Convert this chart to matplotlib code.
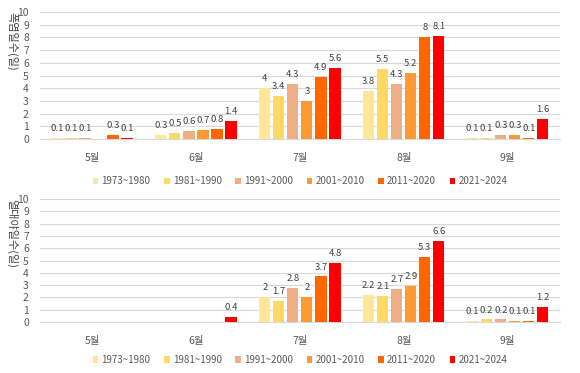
import matplotlib.pyplot as plt
import numpy as np

plt.rcParams['font.family'] = ['Noto Sans CJK KR', 'DejaVu Sans']

months = ["5월", "6월", "7월", "8월", "9월"]
periods = ["1973~1980", "1981~1990", "1991~2000", "2001~2010", "2011~2020", "2021~2024"]
colors = ["#FFE699", "#FFD966", "#EFAE85", "#FF9933", "#FF6600", "#FF0000"]

# 폭염일수 (None = 값 없음)
heat_days = [
    [0.1, 0.3, 4.0, 3.8, 0.1],
    [0.1, 0.5, 3.4, 5.5, 0.1],
    [0.1, 0.6, 4.3, 4.3, 0.3],
    [None, 0.7, 3.0, 5.2, 0.3],
    [0.3, 0.8, 4.9, 8.0, 0.1],
    [0.1, 1.4, 5.6, 8.1, 1.6],
]
# 열대야일수
tropical_nights = [
    [None, None, 2.0, 2.2, 0.1],
    [None, None, 1.7, 2.1, 0.2],
    [None, None, 2.8, 2.7, 0.2],
    [None, None, 2.0, 2.9, 0.1],
    [None, None, 3.7, 5.3, 0.1],
    [None, 0.4, 4.8, 6.6, 1.2],
]

fig = plt.figure(figsize=(5.8, 3.73), dpi=100)
ax1 = fig.add_axes([0.069, 0.627, 0.896, 0.341])
ax2 = fig.add_axes([0.069, 0.137, 0.896, 0.329])


def draw_panel(ax, data, ylabel, legend_y):
    x = np.arange(len(months))
    width = 0.108
    step = 0.135
    for i, (vals, c, lab) in enumerate(zip(data, colors, periods)):
        v = np.array([np.nan if a is None else a for a in vals], dtype=float)
        pos = x + (i - 2.5) * step
        bars = ax.bar(pos, np.nan_to_num(v), width, color=c, label=lab, zorder=3)
        for b, val in zip(bars, v):
            if np.isnan(val):
                continue
            ax.text(b.get_x() + b.get_width() / 2, val + 0.4, f"{val:g}",
                    ha="center", va="bottom", fontsize=6.8, color="#404040")
    ax.set_xlim(-0.5, len(months) - 0.5)
    ax.set_ylim(0, 10)
    ax.set_yticks(range(0, 11))
    ax.set_xticks(x)
    ax.set_xticklabels(months)
    ax.tick_params(axis="x", length=0, pad=10, labelsize=7.5, colors="#595959")
    ax.tick_params(axis="y", length=0, pad=8, labelsize=7.5, colors="#595959")
    ax.grid(axis="y", color="#D9D9D9", linewidth=0.8, zorder=0)
    for s in ["top", "right", "left"]:
        ax.spines[s].set_visible(False)
    ax.spines["bottom"].set_color("#D9D9D9")
    top = ax.get_position().y1
    fig.text(12 / 580, top, ylabel, rotation=270,
             ha="center", va="top", fontsize=8, color="#404040")
    ax.legend(loc="center", bbox_to_anchor=(0.5, legend_y), ncol=6, frameon=False,
              fontsize=7, handlelength=0.6, handleheight=0.6, handletextpad=0.3,
              columnspacing=1.4, labelcolor="#595959")


draw_panel(ax1, heat_days, "폭염일수(일)", -0.33)
draw_panel(ax2, tropical_nights, "열대야일수(일)", -0.31)

fig.savefig("out.png", dpi=100)
